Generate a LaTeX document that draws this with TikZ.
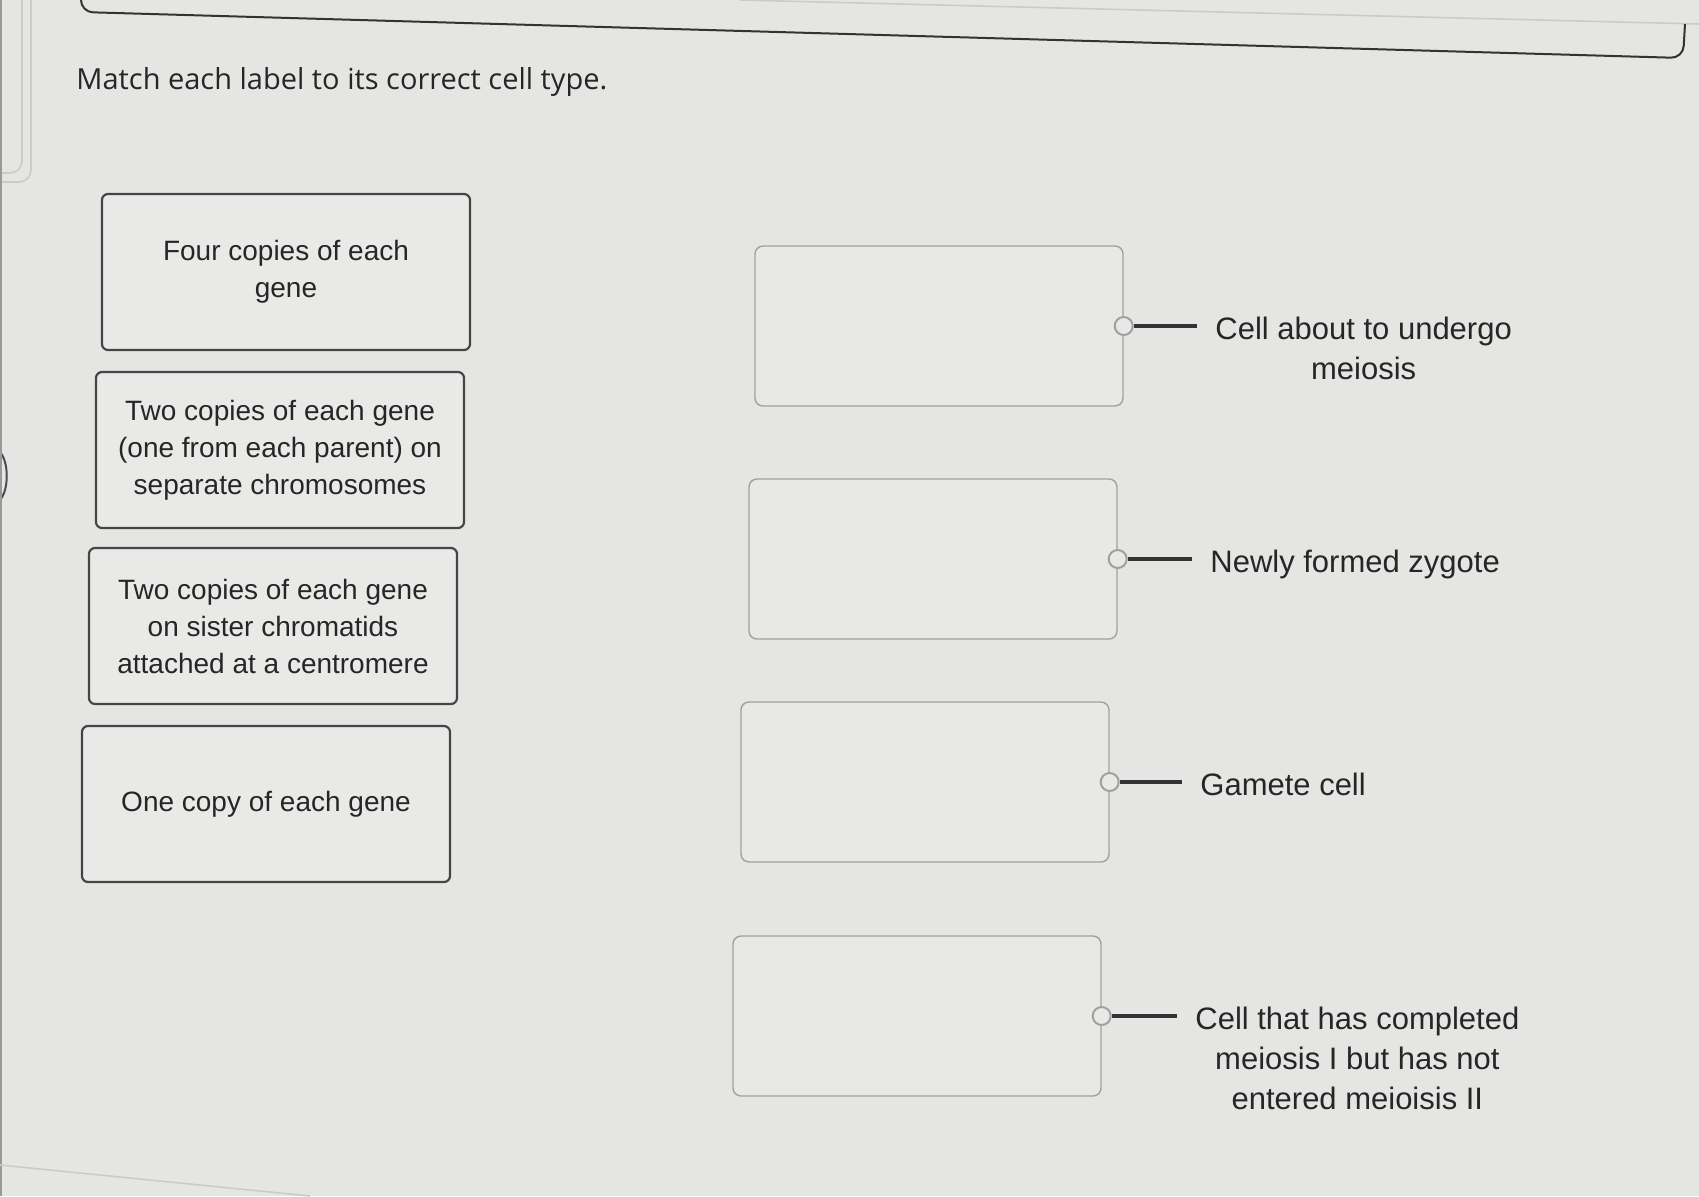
\documentclass[tikz,border=0pt]{standalone}
\usepackage{fontspec}
\setmainfont{Liberation Sans}
\newfontfamily\titlefont{Open Sans}
\definecolor{bgcol}{HTML}{E5E6E4}
\definecolor{cardfill}{HTML}{E9EAE8}
\definecolor{cardline}{HTML}{454545}
\definecolor{slotfill}{HTML}{E8E9E7}
\definecolor{slotline}{HTML}{A0A0A0}
\definecolor{faint}{HTML}{CBCCCA}
\tikzset{
  card/.style={draw=cardline, line width=1.1pt, fill=cardfill, rounded corners=3pt,
    minimum width=184pt, minimum height=78pt, align=center, text=black!85,
    font=\fontsize{14}{18.5}\selectfont},
  slot/.style={draw=slotline, line width=0.7pt, fill=slotfill, rounded corners=4pt,
    minimum width=184pt, minimum height=80pt},
  dot/.style={circle, draw=slotline, line width=1pt, fill=slotfill, inner sep=0pt,
    minimum size=9pt},
  tag/.style={anchor=north west, inner sep=0pt, align=center, text=black!85,
    font=\fontsize{15.5}{19.8}\selectfont},
  wire/.style={draw=black!80, line width=1.6pt}
}

\begin{document}
\begin{tikzpicture}[x=0.5pt, y=-0.5pt]
  \fill[bgcol] (0,0) rectangle (1699,1196);
  \useasboundingbox (0,0) rectangle (1699,1196);
  \draw[faint, line width=0.8pt] (740,0) -- (1699,24);
  \draw[black!80, line width=1pt, rounded corners=6pt] (81,0) -- (81,12) -- (1683,58) -- (1685,24);
  \draw[faint, line width=0.8pt, rounded corners=6pt] (0,173) -- (22,173) -- (22,0);
  \draw[faint, line width=0.8pt, rounded corners=6pt] (0,182) -- (31,182) -- (31,0);
  \draw[black!70, line width=1pt] (0,452) .. controls (9,462) and (9,490) .. (0,500);
  \draw[black!40, line width=0.8pt] (1,0) -- (1,1196);
  \draw[faint, line width=0.8pt] (0,1165) -- (310,1196);

  \node[anchor=base west, inner sep=0pt, text=black!85, font=\titlefont\fontsize{14.5}{17}\selectfont]
    (title) at (76,89) {Match each label to its correct cell type.};

  \node[card] (c1) at (286,272) {Four copies of each\\gene};
  \node[card] (c2) at (280,450) {Two copies of each gene\\(one from each parent) on\\separate chromosomes};
  \node[card] (c3) at (273,626) {Two copies of each gene\\on sister chromatids\\attached at a centromere};
  \node[card] (c4) at (266,804) {One copy of each gene};

  \node[slot] (s1) at (939,326) {};
  \node[slot] (s2) at (933,559) {};
  \node[slot] (s3) at (925,782) {};
  \node[slot] (s4) at (917,1016) {};

  \node[dot] (d1) at (s1.east) {};
  \node[dot] (d2) at (s2.east) {};
  \node[dot] (d3) at (s3.east) {};
  \node[dot] (d4) at (s4.east) {};

  \coordinate (e1) at (1197,326);
  \coordinate (e2) at (1192,559);
  \coordinate (e3) at (1182,782);
  \coordinate (e4) at (1177,1016);

  \draw[wire] (d1) -- (e1);
  \draw[wire] (d2) -- (e2);
  \draw[wire] (d3) -- (e3);
  \draw[wire] (d4) -- (e4);

  \node[tag] (t1) at ([xshift=9pt, yshift=4.5pt]e1) {Cell about to undergo\\meiosis};
  \node[tag] (t2) at ([xshift=9pt, yshift=4.5pt]e2) {Newly formed zygote};
  \node[tag] (t3) at ([xshift=9pt, yshift=4.5pt]e3) {Gamete cell};
  \node[tag] (t4) at ([xshift=9pt, yshift=4.5pt]e4) {Cell that has completed\\meiosis I but has not\\entered meioisis II};
\end{tikzpicture}
\end{document}
